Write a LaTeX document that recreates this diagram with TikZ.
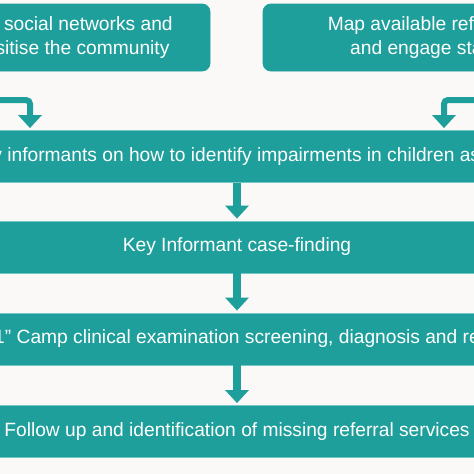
\documentclass[tikz,border=0pt]{standalone}
\usepackage{fontspec}
\setmainfont{Liberation Sans}
\usetikzlibrary{arrows.meta}
\definecolor{tealbox}{HTML}{1F9F9B}
\definecolor{tealedge}{HTML}{72C6C3}
\definecolor{paper}{HTML}{FAF9F7}

\begin{document}
\begin{tikzpicture}[x=1pt,y=-1pt,
        stage/.style={fill=tealbox,draw=tealedge,line width=0.8pt,text=white,inner sep=0pt,
          minimum height=52pt,minimum width=620pt,font=\fontsize{19.2}{24}\selectfont},
        prep/.style={stage,draw=tealbox,rounded corners=8pt,minimum height=67pt,align=center},
        flow/.style={tealbox,line width=7.5pt,-{Triangle[width=23pt,length=13pt]},shorten >=2pt},
        elbow/.style={flow,line width=6pt,rounded corners=4pt}]
        \useasboundingbox (0,0) rectangle (474,474);
        \clip (0,0) rectangle (474,474);
        \fill[paper] (0,0) rectangle (474,474);
        % preparation
        \node[prep,minimum width=286pt] (social) at (67,37.5) {Map social networks and\\sensitise the community};
        \node[prep,minimum width=390pt] (stake) at (458,37.5) {Map available referral services\\and engage stakeholders};
        % main steps
        \node[stage] (train) at (202,156.5) {Train key informants on how to identify impairments in children as};
        \node[stage] (finding) at (237,247) {Key Informant case-finding};
        \node[stage] (camp) at (236,339) {“Day 1” Camp clinical examination screening, diagnosis and referral};
        \node[stage] (followup) at (237,431.5) {Follow up and identification of missing referral services};
        % connectors
        \coordinate (socialout) at (-20,100);
        \coordinate (socialturn) at (30,100);
        \coordinate (stakeout) at (494,100);
        \coordinate (staketurn) at (444,100);
        \draw[elbow] (socialout) -- (socialturn) -- (socialturn |- train.north);
        \draw[elbow] (stakeout) -- (staketurn) -- (staketurn |- train.north);
        \draw[flow] (train.south -| finding.north) -- (finding.north);
        \draw[flow] (finding.south) -- (camp.north -| finding.south);
        \draw[flow] (camp.south -| followup.north) -- (followup.north);
\end{tikzpicture}
\end{document}
